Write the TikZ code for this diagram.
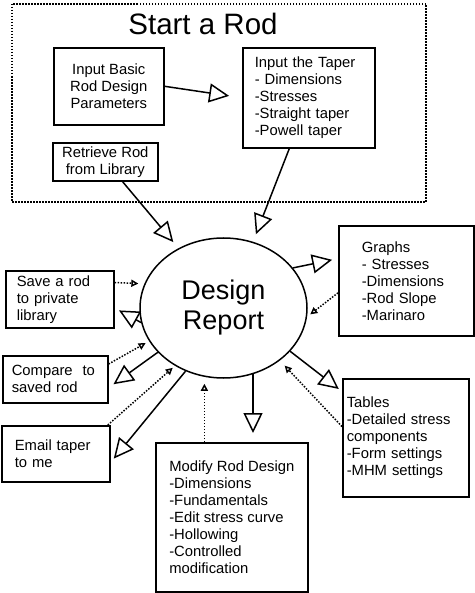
\documentclass[tikz,border=0pt]{standalone}
\usepackage{fontspec}
\setmainfont{Liberation Sans}
\usepackage{tikz}
\usetikzlibrary{arrows.meta,shapes.geometric}

\tikzset{
  box/.style={draw, line width=1.6pt, inner ysep=0pt, anchor=north west,
    font=\fontsize{14.8}{17}\selectfont},
  bigarrow/.style={line width=1.5pt, -{Triangle[open,length=20pt,width=19pt]}},
  dotarrow/.style={line width=1.5pt, dash pattern=on 1.5pt off 1.5pt,
    -{Triangle[open,length=7pt,width=7pt]}}
}

\begin{document}
\begin{tikzpicture}[x=1pt,y=-1pt]
\useasboundingbox (0,0) rectangle (474,593);
% the Start a Rod group
\node[draw, line width=1.5pt, dash pattern=on 1.5pt off 1.5pt,
  minimum width=414pt, minimum height=198pt] (startbox) at (219,103) {};
\node[anchor=base, font=\fontsize{29.5}{32}\selectfont] (starttitle) at (203,35) {Start a Rod};
\node[box, align=center, minimum width=110pt, minimum height=77pt] (basic) at (53,47)
  {Input Basic\\Rod Design\\Parameters};
\node[box, align=left, text width=108pt, inner xsep=12pt, minimum height=100pt] (taper) at (242,47)
  {Input the Taper\\- Dimensions\\-Stresses\\-Straight taper\\-Powell taper};
\node[box, align=center, minimum width=105pt, minimum height=38pt] (retrieve) at (52,142)
  {Retrieve Rod\\from Library};
% the report in the middle
\node[draw, ellipse, line width=1.5pt, inner sep=0pt, minimum width=167pt, minimum height=140pt,
  align=center, font=\fontsize{27}{30}\selectfont] (design) at (223.5,308) {Design\\Report};
% boxes round the report
\node[box, align=left, text width=89pt, inner xsep=23pt, minimum height=110pt] (graphs) at (338,225)
  {Graphs\\- Stresses\\-Dimensions\\-Rod Slope\\-Marinaro};
\node[box, align=left, text width=86pt, inner xsep=11pt, minimum height=57pt] (save) at (5,270)
  {Save a rod\\to private\\library};
\node[box, align=left, text width=87pt, inner xsep=9pt, minimum height=47pt] (compare) at (2,355)
  {Compare~~to\\saved rod};
\node[box, align=left, text width=82pt, inner xsep=13pt, minimum height=56pt] (email) at (1,425)
  {Email taper\\to me};
\node[box, align=left, minimum width=152pt, minimum height=149pt] (modify) at (155,442)
  {Modify Rod Design\\-Dimensions\\-Fundamentals\\-Edit stress curve\\-Hollowing\\-Controlled\\modification};
\node[box, align=left, text width=118pt, inner xsep=4pt, minimum height=118pt] (tables) at (342,378)
  {Tables\\-Detailed stress\\components\\-Form settings\\-MHM settings};
% connectors
\draw[bigarrow, shorten >=13pt] (basic.east) -- (taper.west);
\draw[bigarrow, shorten >=8pt] (taper.-111) -- (design.66);
\draw[bigarrow, shorten >=8pt] (retrieve.-49) -- (design.127);
\draw[bigarrow, shorten >=6pt] (design.30) -- (graphs.162);
\draw[dotarrow, shorten >=4pt] (graphs.190) -- (design.-6);
\draw[dotarrow, shorten >=6pt] (save.17) -- (design.163);
\draw[bigarrow, shorten >=5pt] (design.190) -- (save.-9);
\draw[dotarrow, shorten >=4pt] (compare.16) -- (design.204);
\draw[bigarrow, shorten >=6pt] (design.214) -- (compare.-9);
\draw[dotarrow, shorten >=3pt] (email.29) -- (design.230);
\draw[bigarrow, shorten >=5pt] (design.239) -- (email.-9);
\draw[dotarrow, shorten >=5pt] (modify.110) -- (modify.110 |- design.south);
\draw[bigarrow, shorten >=9pt] (design.-66) -- (design.-66 |- modify.north);
\draw[dotarrow, shorten >=7pt] (tables.170) -- (design.-43);
\draw[bigarrow, shorten >=4pt] (design.-33) -- (tables.144);
\end{tikzpicture}
\end{document}
